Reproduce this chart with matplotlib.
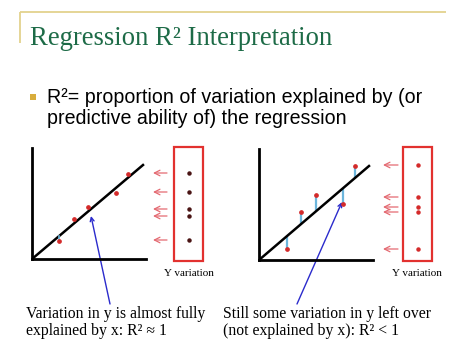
import numpy as np
import matplotlib
matplotlib.use('Agg')
import matplotlib.pyplot as plt
from matplotlib.patches import Rectangle

W, H = 474, 355

# panel data, in pixels measured from each plot's origin (x right, y up)
left_x = [27, 42, 56, 84, 96]
left_y = [18, 40, 52, 66, 85]
left_line_x = [0, 111]
left_line_y = [0, 94]
left_box_y = [19, 43, 50, 67, 86]
left_resid = [0]

right_x = [28, 42, 57, 84, 96]
right_y = [11, 48, 65, 56, 94]
right_line_x = [0, 110]
right_line_y = [0, 94]
right_box_y = [11, 48, 53, 63, 95]

title_txt = 'Regression R\u00b2 Interpretation'
bullet_lines = ['R\u00b2= proportion of variation explained by (or',
                'predictive ability of) the regression']
left_caption = ['Variation in y is almost fully', 'explained by x: R\u00b2 \u2248 1']
right_caption = ['Still some variation in y left over', '(not explained by x): R\u00b2 < 1']

green = '#1d6b47'
gold = '#e3d28e'
red_box = '#e2312f'
arrow_red = '#e46a72'
dot_red = '#d42a2a'
blue = '#2b2bcc'
resid_blue = '#6cb6dc'

fig = plt.figure(figsize=(W / 100, H / 100), dpi=100)
fig.patch.set_facecolor('white')

bg = fig.add_axes([0, 0, 1, 1])
bg.set_xlim(0, W)
bg.set_ylim(H, 0)
bg.axis('off')

# slide decoration
bg.plot([20, 446], [12, 12], color=gold, lw=1.3, solid_capstyle='butt')
bg.plot([20, 20], [12, 43], color=gold, lw=1.3, solid_capstyle='butt')
bg.text(30, 45, title_txt, family='Liberation Serif', fontsize=19.2,
        color=green, va='baseline', ha='left')

bg.add_patch(Rectangle((30, 94), 6, 6, color='#d8ad3c', lw=0))
bg.text(47, 103, bullet_lines[0], family='Liberation Sans', fontsize=14.1,
        va='baseline', ha='left', color='black')
bg.text(47, 124, bullet_lines[1], family='Liberation Sans', fontsize=14.1,
        va='baseline', ha='left', color='black')


def panel(ox, oy, width):
    # axes whose data units are pixels from the plot origin
    top, bot = 145, 264
    ax = fig.add_axes([ox / W, 1 - bot / H, width / W, (bot - top) / H])
    ax.set_xlim(0, width)
    ax.set_ylim(oy - bot, oy - top)
    ax.set_xticks([])
    ax.set_yticks([])
    ax.patch.set_alpha(0)
    for s in ['top', 'right']:
        ax.spines[s].set_visible(False)
    ax.spines['bottom'].set_position(('data', 0))
    ax.spines['left'].set_position(('data', 0))
    for s in ['left', 'bottom']:
        ax.spines[s].set_linewidth(2.0)
        ax.spines[s].set_color('black')
    return ax


def draw_box(ax, x0, y0, w, h, ys, arrow_x0, arrow_x1, dot_color):
    ax.add_patch(Rectangle((x0, y0), w, h, fill=False, edgecolor=red_box,
                           lw=1.6, clip_on=False))
    ax.plot([x0 + w / 2] * len(ys), ys, 'o', ms=2.2, color=dot_color,
            clip_on=False)
    for y in ys:
        ax.annotate('', xy=(arrow_x0, y), xytext=(arrow_x1, y),
                    arrowprops=dict(arrowstyle='->', color=arrow_red, lw=0.9,
                                    mutation_scale=10, shrinkA=0, shrinkB=0),
                    annotation_clip=False)


# left panel
axl = panel(32, 259, 175)
axl.spines['left'].set_bounds(0, 111)
axl.spines['bottom'].set_bounds(0, 114)
axl.plot(left_line_x, left_line_y, color='black', lw=1.8)
slope_l = left_line_y[1] / left_line_x[1]
for i in left_resid:
    axl.plot([left_x[i], left_x[i]], [left_y[i], slope_l * left_x[i]],
             color=resid_blue, lw=1.2)
axl.plot(left_x, left_y, 'o', ms=2.4, color=dot_red)
draw_box(axl, 142, -2, 29, 114, left_box_y, 121, 135, '#4a1414')
axl.text(157, -14, 'Y variation', family='Liberation Serif', fontsize=8,
         ha='center', va='center')

# right panel
axr = panel(259, 260, 176)
axr.spines['left'].set_bounds(0, 111)
axr.spines['bottom'].set_bounds(0, 114)
slope_r = right_line_y[1] / right_line_x[1]
fit_r = [slope_r * x for x in right_x]
axr.vlines(right_x, right_y, fit_r, color=resid_blue, lw=1.6)
axr.plot(right_line_x, right_line_y, color='black', lw=1.8)
axr.plot(right_x, right_y, 'o', ms=2.4, color=dot_red)
draw_box(axr, 144, -1, 29, 114, right_box_y, 124, 139, dot_red)
axr.text(158, -13, 'Y variation', family='Liberation Serif', fontsize=8,
         ha='center', va='center')

# pointers to the regression lines
bg.annotate('', xy=(91, 216), xytext=(110, 304),
            arrowprops=dict(arrowstyle='->', color=blue, lw=1.0,
                            mutation_scale=7, shrinkA=0, shrinkB=0))
bg.annotate('', xy=(342, 202), xytext=(297, 304),
            arrowprops=dict(arrowstyle='->', color=blue, lw=1.0,
                            mutation_scale=7, shrinkA=0, shrinkB=0))

for i, (a, b) in enumerate(zip(left_caption, right_caption)):
    yb = 318 + 17 * i
    bg.text(26, yb, a, family='Liberation Serif', fontsize=11.3,
            va='baseline', ha='left')
    bg.text(223, yb, b, family='Liberation Serif', fontsize=11.3,
            va='baseline', ha='left')

fig.savefig('out.png', dpi=100, facecolor='white')
